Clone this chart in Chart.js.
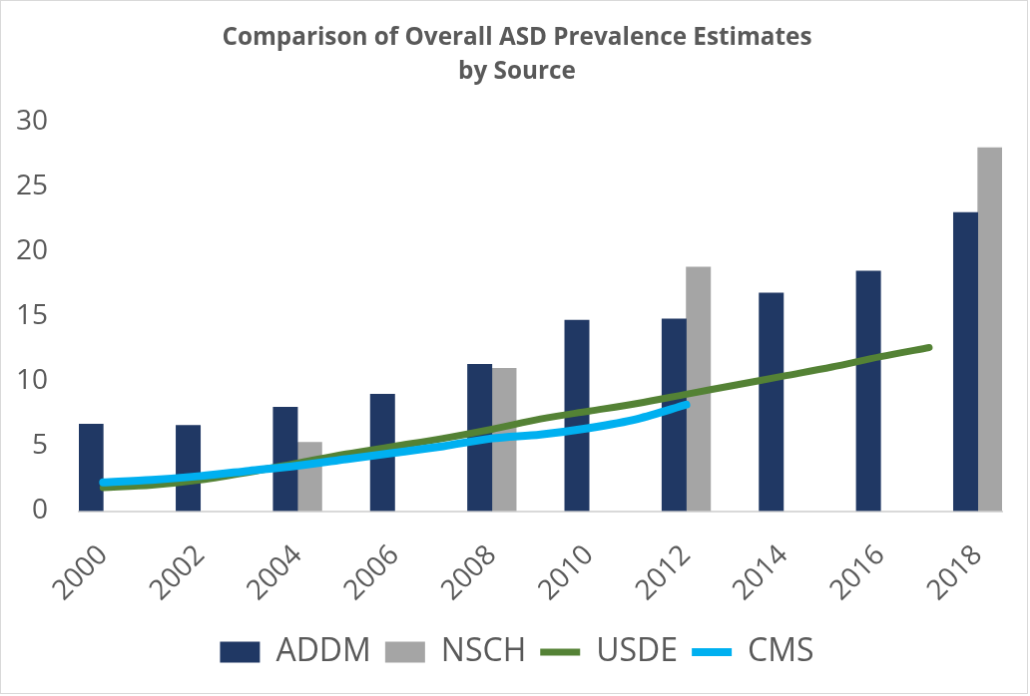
<!DOCTYPE html>
<html>
<head>
<meta charset="utf-8">
<script src="https://cdn.jsdelivr.net/npm/chart.js@4/dist/chart.umd.min.js"></script>
<style>
  body { margin: 0; background: #fff; }
  #grafico { border: 1px solid #d9d9d9; display: block; }
</style>
</head>
<body>
<canvas id="grafico" width="1028" height="694"></canvas>
<script>
// categorias (um ano por posicao, rotulo so nos anos pares)
var anos = ['2000', '2001', '2002', '2003', '2004', '2005', '2006', '2007', '2008', '2009',
            '2010', '2011', '2012', '2013', '2014', '2015', '2016', '2017', '2018'];

var addm = [6.7, null, 6.6, null, 8.0, null, 9.0, null, 11.3, null,
            14.7, null, 14.8, null, 16.8, null, 18.5, null, 23.0];
var nsch = [null, null, null, null, 5.3, null, null, null, 11.0, null,
            null, null, 18.8, null, null, null, null, null, 28.0];
var usde = [1.8, 2.0, 2.4, 3.0, 3.7, 4.4, 5.0, 5.6, 6.3, 7.1,
            7.7, 8.3, 9.0, 9.7, 10.4, 11.1, 11.9, 12.6, null];
var cms  = [2.2, 2.4, 2.7, 3.1, 3.5, 4.0, 4.5, 5.0, 5.6, 5.9,
            6.4, 7.1, 8.2, null, null, null, null, null, null];

var corTexto = '#595959';

// titulo e legenda centrados um pouco mais a direita, como no original
var deslocaCentro = {
  id: 'deslocaCentro',
  afterLayout: function(chart){
    [chart.titleBlock, chart.legend].forEach(function(caixa){
      if (caixa) { caixa.left += 8; caixa.right += 8; }
    });
  }
};

function criaGrafico(idGrafico){
  var ctx = document.getElementById(idGrafico).getContext('2d');
  return new Chart(ctx, {
    type: 'bar',
    data: {
      labels: anos,
      datasets: [
        { label: 'ADDM', data: addm, backgroundColor: '#203864', order: 2,
          pointStyle: 'rect', borderWidth: 0 },
        { label: 'NSCH', data: nsch, backgroundColor: '#a5a5a5', order: 3,
          pointStyle: 'rect', borderWidth: 0 },
        { label: 'USDE', type: 'line', data: usde, borderColor: '#548235', backgroundColor: '#548235',
          borderWidth: 7, tension: 0.3, pointRadius: 0, borderCapStyle: 'round',
          borderJoinStyle: 'round', pointStyle: 'line', order: 1 },
        { label: 'CMS', type: 'line', data: cms, borderColor: '#00b0f0', backgroundColor: '#00b0f0',
          borderWidth: 8, tension: 0.3, pointRadius: 0, borderCapStyle: 'round',
          borderJoinStyle: 'round', pointStyle: 'line', order: 0 }
      ]
    },
    options: {
      responsive: false,
      animation: false,
      devicePixelRatio: 1,
      datasets: {
        bar: { categoryPercentage: 1.0, barPercentage: 1.0 }
      },
      layout: { padding: { left: 15, right: 25, top: 0, bottom: 15 } },
      scales: {
        x: {
          grid: { display: false, drawTicks: false },
          border: { display: true, color: '#d9d9d9', width: 2 },
          ticks: {
            autoSkip: false,
            minRotation: 45,
            maxRotation: 45,
            padding: 28,
            color: corTexto,
            font: { family: 'Open Sans', size: 28 },
            callback: function(v, i){ return i % 2 === 0 ? anos[i] : ''; }
          },
          afterFit: function(escala){
            // o rotulo de 2000 cabe na margem do eixo y
            escala.height = 111.5;
            escala.paddingLeft = 0;
            escala.paddingRight = 0;
          }
        },
        y: {
          min: 0,
          max: 30,
          grid: { display: false, drawTicks: false },
          border: { display: false },
          ticks: {
            stepSize: 5,
            padding: 31,
            color: corTexto,
            font: { family: 'Open Sans', size: 28 }
          },
          afterFit: function(escala){ escala.width = 63; }
        }
      },
      plugins: {
        title: {
          display: true,
          text: ['Comparison of Overall ASD Prevalence Estimates', 'by Source'],
          color: corTexto,
          font: { family: 'Open Sans', size: 24.3, weight: 'bold', lineHeight: 1.4 },
          padding: { top: 20, bottom: 33 }
        },
        legend: {
          position: 'bottom',
          labels: {
            usePointStyle: true,
            pointStyleWidth: 40,
            boxHeight: 21,
            padding: 14,
            color: corTexto,
            font: { family: 'Open Sans', size: 32 },
            sort: function(a, b){ return a.datasetIndex - b.datasetIndex; }
          }
        },
        tooltip: { enabled: false }
      }
    },
    plugins: [deslocaCentro]
  });
}

criaGrafico('grafico');
</script>
</body>
</html>
